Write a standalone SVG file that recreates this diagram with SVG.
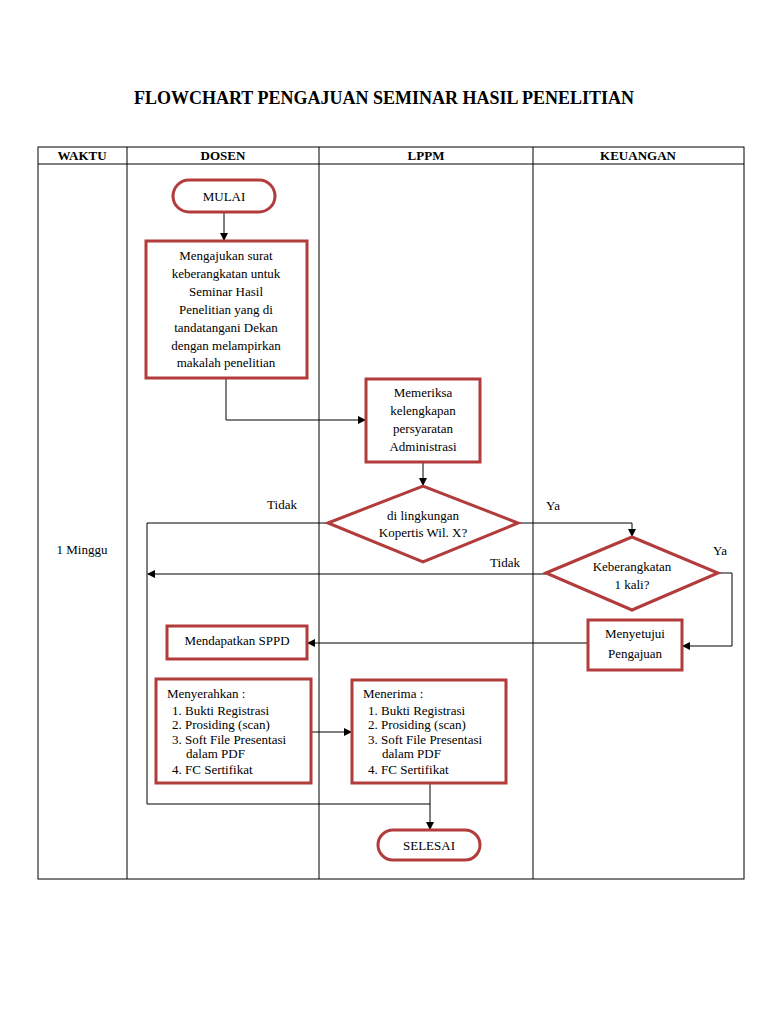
<svg xmlns="http://www.w3.org/2000/svg" width="768" height="1024" viewBox="0 0 768 1024">
<style>
text{font-family:"Liberation Serif","Times New Roman",serif;font-size:13px;fill:#000}
.c{text-anchor:middle}
.h{font-weight:bold;text-anchor:middle}
.n{fill:#fff;stroke:#b23b3b;stroke-width:3}
.l{fill:none;stroke:#000;stroke-width:1}
.g{fill:none;stroke:#000;stroke-width:1}
</style>
<defs><marker id="a" markerWidth="8" markerHeight="8" refX="7" refY="4" orient="auto" markerUnits="userSpaceOnUse"><path d="M0,0 L8,4 L0,8 z" fill="#000"/></marker></defs>
<rect width="768" height="1024" fill="#fff"/>
<text x="384" y="104" class="h" style="font-size:18px">FLOWCHART PENGAJUAN SEMINAR HASIL PENELITIAN</text>
<g id="table">
<rect x="38" y="147" width="706" height="732" class="g"/>
<line x1="38" y1="164" x2="744" y2="164" class="g"/>
<line x1="127" y1="147" x2="127" y2="879" class="g"/>
<line x1="319" y1="147" x2="319" y2="879" class="g"/>
<line x1="533" y1="147" x2="533" y2="879" class="g"/>
<text x="82" y="160" class="h">WAKTU</text><text x="223" y="160" class="h">DOSEN</text><text x="426" y="160" class="h">LPPM</text><text x="638" y="160" class="h">KEUANGAN</text>
<text x="82" y="554" class="c">1 Minggu</text>
</g>
<g id="connectors">
<line x1="224" y1="212" x2="224" y2="240" class="l" marker-end="url(#a)"/>
<polyline points="226,378 226,420 365,420" class="l" marker-end="url(#a)"/>
<line x1="423" y1="462" x2="423" y2="485" class="l" marker-end="url(#a)"/>
<polyline points="328,523 147,523 147,804 430,804" class="l"/>
<polyline points="518,523 632,523 632,536" class="l" marker-end="url(#a)"/>
<line x1="546" y1="574" x2="148" y2="574" class="l" marker-end="url(#a)"/>
<polyline points="718,573 732,573 732,646 683,646" class="l" marker-end="url(#a)"/>
<line x1="588" y1="643" x2="308" y2="643" class="l" marker-end="url(#a)"/>
<line x1="311" y1="732" x2="351" y2="732" class="l" marker-end="url(#a)"/>
<line x1="430" y1="783" x2="430" y2="829" class="l" marker-end="url(#a)"/>
<text x="282" y="509" class="c">Tidak</text>
<text x="553" y="510" class="c">Ya</text>
<text x="505" y="567" class="c">Tidak</text>
<text x="720" y="555" class="c">Ya</text>
</g>
<g id="mulai"><rect x="173" y="180" width="102" height="32" rx="16" class="n"/><text x="224" y="201" class="c">MULAI</text></g>
<g id="ajukan"><rect x="146" y="241" width="161" height="137" class="n"/>
<text class="c"><tspan x="226" y="260">Mengajukan surat</tspan><tspan x="226" y="278">keberangkatan untuk</tspan><tspan x="226" y="296">Seminar Hasil</tspan><tspan x="226" y="314">Penelitian yang di</tspan><tspan x="226" y="332">tandatangani Dekan</tspan><tspan x="226" y="350">dengan melampirkan</tspan><tspan x="226" y="367">makalah penelitian</tspan></text></g>
<g id="periksa"><rect x="366" y="379" width="114" height="83" class="n"/>
<text class="c"><tspan x="423" y="397">Memeriksa</tspan><tspan x="423" y="415">kelengkapan</tspan><tspan x="423" y="433">persyaratan</tspan><tspan x="423" y="451">Administrasi</tspan></text></g>
<g id="lingkungan"><polygon points="328,523 423,486 518,523 423,562" class="n"/>
<text class="c"><tspan x="423" y="520">di lingkungan</tspan><tspan x="423" y="537">Kopertis Wil. X?</tspan></text></g>
<g id="kali"><polygon points="546,573 632,537 718,573 632,610" class="n"/>
<text class="c"><tspan x="632" y="571">Keberangkatan</tspan><tspan x="632" y="589">1 kali?</tspan></text></g>
<g id="setuju"><rect x="588" y="620" width="94" height="50" class="n"/>
<text class="c"><tspan x="635" y="638">Menyetujui</tspan><tspan x="635" y="658">Pengajuan</tspan></text></g>
<g id="sppd"><rect x="167" y="626" width="140" height="33" class="n"/><text x="237" y="645" class="c">Mendapatkan SPPD</text></g>
<g id="serah"><rect x="156" y="679" width="155" height="104" class="n"/>
<text><tspan x="167" y="698">Menyerahkan :</tspan><tspan x="172" y="715">1. Bukti Registrasi</tspan><tspan x="172" y="729">2. Prosiding (scan)</tspan><tspan x="172" y="744">3. Soft File Presentasi</tspan><tspan x="186" y="758">dalam PDF</tspan><tspan x="172" y="774">4. FC Sertifikat</tspan></text></g>
<g id="terima"><rect x="352" y="680" width="154" height="103" class="n"/>
<text><tspan x="363" y="698">Menerima :</tspan><tspan x="368" y="715">1. Bukti Registrasi</tspan><tspan x="368" y="729">2. Prosiding (scan)</tspan><tspan x="368" y="744">3. Soft File Presentasi</tspan><tspan x="382" y="758">dalam PDF</tspan><tspan x="368" y="774">4. FC Sertifikat</tspan></text></g>
<g id="selesai"><rect x="378" y="830" width="102" height="30" rx="15" class="n"/><text x="429" y="850" class="c">SELESAI</text></g>
</svg>
